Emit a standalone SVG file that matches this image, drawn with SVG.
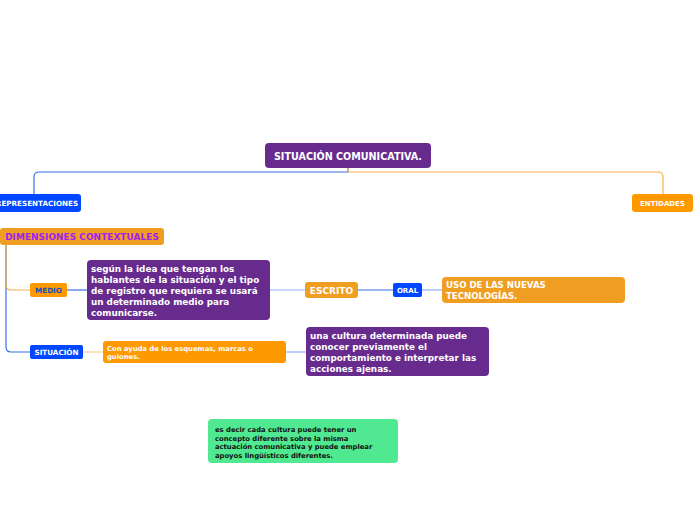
<svg xmlns="http://www.w3.org/2000/svg" width="697" height="520" viewBox="0 0 697 520">
<style>
text{font-family:"DejaVu Sans",Verdana,sans-serif;font-weight:bold;fill:#fff}
.p{fill:#672b8e}.b{fill:#0047ff}.o{fill:#ff9900}.o2{fill:#f09e22}.g{fill:#50e890}
.cb{stroke:#3a6fe8;fill:none;stroke-width:1.2}.co{stroke:#f5b04a;fill:none;stroke-width:1.2}
.lb{stroke:#8fb0f5;fill:none;stroke-width:1.2}.lo{stroke:#fcd08f;fill:none;stroke-width:1.2}
</style>
<g id="connectors">
<path class="cb" d="M348 168 V172 H39 Q34 172 34 177 V194"/>
<path class="co" d="M348 168 V172 H658 Q663 172 663 177 V194"/>
<path class="cb" d="M6 245 V347 Q6 352 11 352 H30"/>
<path class="co" d="M6 245 V285 Q6 290 11 290 H30"/>
<path class="cb" d="M67 290 H87" stroke-width="1.6"/>
<path class="lb" d="M270 290 H305"/>
<path class="cb" d="M358 290 H393"/>
<path class="lb" d="M422 290 H442"/>
<path class="lo" d="M83 352 H103"/>
<path class="lb" d="M286 352 H306"/>
</g>
<g id="root"><rect class="p" x="265" y="143" width="166" height="25" rx="4"/><text x="348" y="160" font-size="9.6" text-anchor="middle">SITUACIÓN COMUNICATIVA.</text></g>
<g id="representaciones"><rect class="b" x="-6" y="194" width="87" height="18" rx="3"/><text x="37" y="206" font-size="7.2" text-anchor="middle">REPRESENTACIONES</text></g>
<g id="entidades"><rect class="o" x="632" y="194" width="61" height="18" rx="3"/><text x="662.5" y="206" font-size="7" text-anchor="middle">ENTIDADES</text></g>
<g id="dimensiones"><rect class="o2" x="0" y="228" width="164" height="17" rx="3"/><text x="82" y="240" font-size="9" text-anchor="middle" style="fill:#a020f0">DIMENSIONES CONTEXTUALES</text></g>
<g id="medio"><rect class="o" x="30" y="283" width="37" height="14" rx="2"/><text x="48.5" y="293" font-size="7.2" text-anchor="middle" style="fill:#1050c0">MEDIO</text></g>
<g id="situacion"><rect class="b" x="30" y="345" width="53" height="14" rx="2"/><text x="56.5" y="355" font-size="7.2" text-anchor="middle">SITUACIÓN</text></g>
<g id="segun"><rect class="p" x="87" y="260" width="183" height="60" rx="4"/>
<text font-size="8.8"><tspan x="91" y="272">según la idea que tengan los</tspan><tspan x="91" y="283">hablantes de la situación y el tipo</tspan><tspan x="91" y="294">de registro que requiera se usará</tspan><tspan x="91" y="305">un determinado medio para</tspan><tspan x="91" y="316">comunicarse.</tspan></text></g>
<g id="escrito"><rect class="o2" x="305" y="282" width="53" height="16" rx="3"/><text x="331.5" y="294" font-size="9" text-anchor="middle">ESCRITO</text></g>
<g id="oral"><rect class="b" x="393" y="283" width="29" height="14" rx="2"/><text x="407.5" y="293" font-size="7" text-anchor="middle">ORAL</text></g>
<g id="uso"><rect class="o2" x="442" y="277" width="183" height="26" rx="4"/>
<text font-size="8.6"><tspan x="446" y="288">USO DE LAS NUEVAS</tspan><tspan x="446" y="299">TECNOLOGÍAS.</tspan></text></g>
<g id="conayuda"><rect class="o" x="103" y="341" width="183" height="22" rx="3"/>
<text font-size="6.8"><tspan x="107" y="351">Con ayuda de los esquemas, marcas o</tspan><tspan x="107" y="359">guiones.</tspan></text></g>
<g id="cultura"><rect class="p" x="306" y="327" width="183" height="49" rx="4"/>
<text font-size="8.8"><tspan x="310" y="339">una cultura determinada puede</tspan><tspan x="310" y="350">conocer previamente el</tspan><tspan x="310" y="361">comportamiento e interpretar las</tspan><tspan x="310" y="372">acciones ajenas.</tspan></text></g>
<g id="esdecir"><rect class="g" x="208" y="419" width="190" height="44" rx="4"/>
<text font-size="6.8" style="fill:#111"><tspan x="215" y="432">es decir cada cultura puede tener un</tspan><tspan x="215" y="440.5">concepto diferente sobre la misma</tspan><tspan x="215" y="449">actuación comunicativa y puede emplear</tspan><tspan x="215" y="457.5">apoyos lingüísticos diferentes.</tspan></text></g>
</svg>
